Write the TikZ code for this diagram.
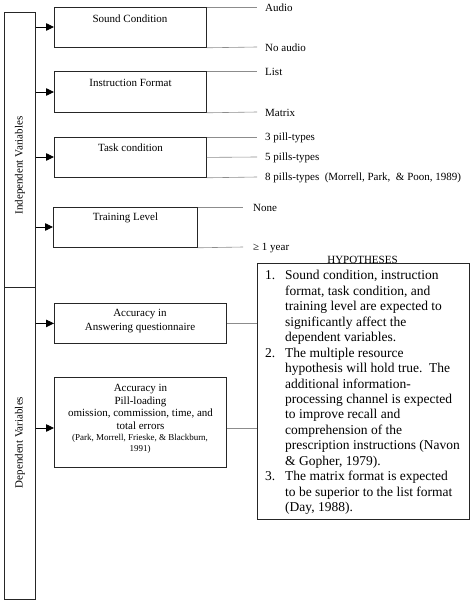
\documentclass[tikz,border=0pt]{standalone}
\usepackage{fontspec}
\setmainfont{Liberation Serif}
\usetikzlibrary{arrows.meta}
\begin{document}
\begin{tikzpicture}[x=1pt,y=-1pt,
  box/.style={draw=black!85, line width=0.8pt, inner sep=0pt, anchor=north west},
  txt/.style={font=\fontsize{11}{13}\selectfont, inner sep=0pt},
  side/.style={font=\fontsize{11}{13}\selectfont, inner sep=0pt, anchor=west},
  gl/.style={draw=black!45, line width=0.6pt},
  arr/.style={draw=black, line width=0.8pt, -{Triangle[length=8pt,width=7.5pt]}},
]
\useasboundingbox (0,0) rectangle (474,604);

% left column
\node[box, minimum width=31pt, minimum height=275pt] (iv) at (4,12) {};
\node[box, minimum width=31pt, minimum height=312pt] (dv) at (4,287) {};
\node[txt, rotate=90] (ivl) at (20,165.5) {Independent Variables};
\node[txt, rotate=90] (dvl) at (20,442.5) {Dependent Variables};

% independent variable boxes
\node[box, minimum width=152pt, minimum height=40pt] (sc) at (54,7) {};
\node[txt] (sct) at (130,18.5) {Sound Condition};
\node[box, minimum width=152pt, minimum height=41pt] (inf) at (54,71) {};
\node[txt] (inft) at (130.5,82.5) {Instruction Format};
\node[box, minimum width=152pt, minimum height=40pt] (tc) at (54,137) {};
\node[txt] (tct) at (130.5,148) {Task condition};
\node[box, minimum width=144pt, minimum height=40pt] (tl) at (53,207) {};
\node[txt] (tlt) at (125.5,218) {Training Level};

\draw[arr] (iv.east |- 0,27) -- (sc.west |- 0,27);
\draw[arr] (iv.east |- 0,92) -- (inf.west |- 0,92);
\draw[arr] (iv.east |- 0,157) -- (tc.west |- 0,157);
\draw[arr] (iv.east |- 0,227) -- (tl.west |- 0,227);

% levels
\node[side] (au) at (265,7.5) {Audio};
\node[side] (na) at (265,48) {No audio};
\node[side] (li) at (265,72) {List};
\node[side] (ma) at (265,112.5) {Matrix};
\node[side] (p3) at (265,137.5) {3 pill-types};
\node[side] (p5) at (265,157.5) {5 pills-types};
\node[side] (p8) at (265,177.5) {8 pills-types\ \ (Morrell, Park,\ \ \& Poon, 1989)};
\node[side] (no) at (253,208) {None};
\node[side] (yr) at (253,248) {≥ 1 year};

\draw[gl] (sc.north east) -- (257,7);
\draw[gl] (sc.south east) -- (257,47);
\draw[gl] (inf.north east) -- (257,71);
\draw[gl] (inf.south east) -- (257,112);
\draw[gl] (tc.north east) -- (257,137);
\draw[gl] (tc.east) -- (257,157);
\draw[gl] (tc.south east) -- (257,177);
\draw[gl] (tl.north east) -- (243,207);
\draw[gl] (tl.south east) -- (243,247);

% dependent variable boxes
\node[box, minimum width=172pt, minimum height=40pt] (aq) at (54,303) {};
\node[txt, align=center, font=\fontsize{11}{14}\selectfont] (aqt) at (140,321) {Accuracy in\\Answering questionnaire};
\node[box, minimum width=172pt, minimum height=90pt] (pl) at (54,377) {};
\node[txt, align=center, font=\fontsize{11}{12.7}\selectfont] (plt) at (140.5,407) {Accuracy in\\Pill-loading\\omission, commission, time, and\\total errors};
\node[txt, align=center, font=\fontsize{9}{10.7}\selectfont] (plc) at (140,443.5) {(Park, Morrell, Frieske, \& Blackburn,\\1991)};

\draw[arr] (dv.east |- aq.west) -- (aq.west);
\draw[arr] (dv.east |- 0,428) -- (pl.west |- 0,428);

% hypotheses
\node[txt] (hyt) at (362.5,259.5) {HYPOTHESES};
\node[box, minimum width=212pt, minimum height=256pt] (hyp) at (257,263) {};
\node[inner sep=0pt, anchor=north west, font=\fontsize{13.5}{15.47}\selectfont] (hypt) at (265,268.7) {%
\begin{tabular}{@{}p{20pt}@{}l@{}}
1. & Sound condition, instruction\\
   & format, task condition, and\\
   & training level are expected to\\
   & significantly affect the\\
   & dependent variables.\\
2. & The multiple resource\\
   & hypothesis will hold true.\ \ The\\
   & additional information-\\
   & processing channel is expected\\
   & to improve recall and\\
   & comprehension of the\\
   & prescription instructions (Navon\\
   & \& Gopher, 1979).\\
3. & The matrix format is expected\\
   & to be superior to the list format\\
   & (Day, 1988).
\end{tabular}};

\draw[gl] (aq.east |- 0,323) -- (hyp.west |- 0,323);
\draw[gl] (pl.east |- 0,428) -- (hyp.west |- 0,428);
\end{tikzpicture}
\end{document}
